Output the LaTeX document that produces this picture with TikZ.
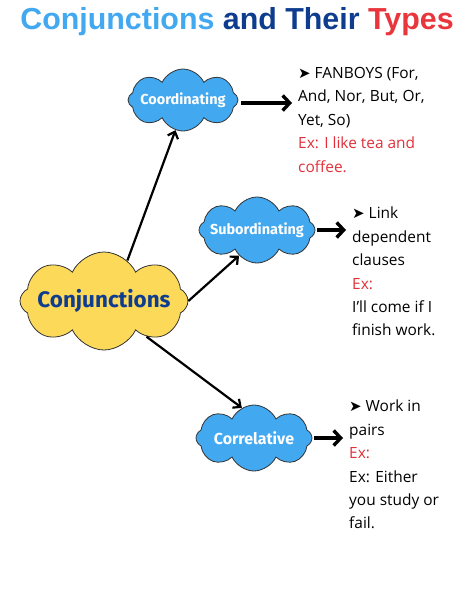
\documentclass[tikz,border=0pt]{standalone}
\usepackage{fontspec}
\setmainfont{Open Sans}
\newfontfamily\titlefont{Liberation Sans}
\newfontfamily\cloudfont{Fira Sans}
\newfontfamily\symfont{DejaVu Sans}
\usetikzlibrary{shapes.symbols,arrows.meta,positioning}

\definecolor{skyblue}{HTML}{42A8F0}
\definecolor{navyblue}{HTML}{0E3C8E}
\definecolor{titlered}{HTML}{E8363C}
\definecolor{sunyellow}{HTML}{FDD95A}
\definecolor{exred}{HTML}{E0303A}

\newcommand{\pointmark}{{\symfont\fontsize{15}{15}\selectfont ➤}}

\tikzset{
  bubble/.style={cloud, cloud puffs=8, cloud puff arc=130, cloud ignores aspect,
    draw=black!80, line width=0.8bp, fill=skyblue, text=white, inner sep=0pt,
    font=\cloudfont\bfseries\fontsize{14.5}{14.5}\selectfont},
  note/.style={anchor=north west, align=left, inner sep=0pt,
    font=\fontsize{15.5}{23.5}\selectfont},
  link/.style={-{Straight Barb[length=6bp,width=11bp]}, line width=2.2bp},
  pointer/.style={-{Straight Barb[length=7bp,width=15bp]}, line width=3.4bp, shorten >=6bp}
}

\begin{document}
\begin{tikzpicture}
	\useasboundingbox (0bp,0bp) rectangle (474bp,-592bp);

	% title
	\node (title) at (237bp,-22bp) [font=\titlefont\bfseries\fontsize{30.5}{30.5}\selectfont]
		{\textcolor{skyblue}{Conjunctions} \textcolor{navyblue}{and Their} \textcolor{titlered}{Types}};

	% clouds
	\node (conj)  at (104bp,-301bp) [bubble, fill=sunyellow, text=navyblue, minimum width=168bp, minimum height=98bp,
		font=\cloudfont\bfseries\fontsize{22.5}{22.5}\selectfont] {\makebox[0pt]{Conjunctions}};
	\node (coord) at (183bp,-100bp) [bubble, minimum width=110bp, minimum height=62bp] {\makebox[0pt]{Coordinating}};
	\node (sub)   at (257bp,-230bp) [bubble, minimum width=116bp, minimum height=66bp,
		font=\cloudfont\bfseries\fontsize{14.5}{14.5}\selectfont] {\makebox[0pt]{Subordinating}};
	\node (corr)  at (254bp,-438bp) [bubble, minimum width=116bp, minimum height=66bp,
		font=\cloudfont\bfseries\fontsize{16}{16}\selectfont] {\makebox[0pt]{Correlative}};

	% notes
	\node (fanboys) at (298bp,-67bp) [note]
		{\pointmark\ FANBOYS (For,\\ And, Nor, But, Or,\\ Yet, So)\\
		 \textcolor{exred}{Ex: I like tea and}\\ \textcolor{exred}{coffee.}};
	\node (linknote) at (352bp,-207bp) [note]
		{\pointmark\ Link\\ dependent\\ clauses\\ \textcolor{exred}{Ex:}\\ I'll come if I\\ finish work.};
	\node (pairnote) at (349bp,-400bp) [note]
		{\pointmark\ Work in\\ pairs\\ \textcolor{exred}{Ex:}\\ Ex: Either\\ you study or\\ fail.};

	\draw [link] (conj.60) to (coord.256);
	\draw [link] (conj.east) to (sub.235);
	\draw [link] (conj.-40) to (corr.112);

	\draw [pointer] (coord.east) ++(3bp,-3bp) -- (fanboys.west |- 0,-103bp);
	\draw [pointer] (sub.east) ++(2bp,0bp) -- (linknote.west |- sub.east);
	\draw [pointer] (corr.east) ++(2bp,0bp) -- (pairnote.west |- corr.east);
\end{tikzpicture}
\end{document}
